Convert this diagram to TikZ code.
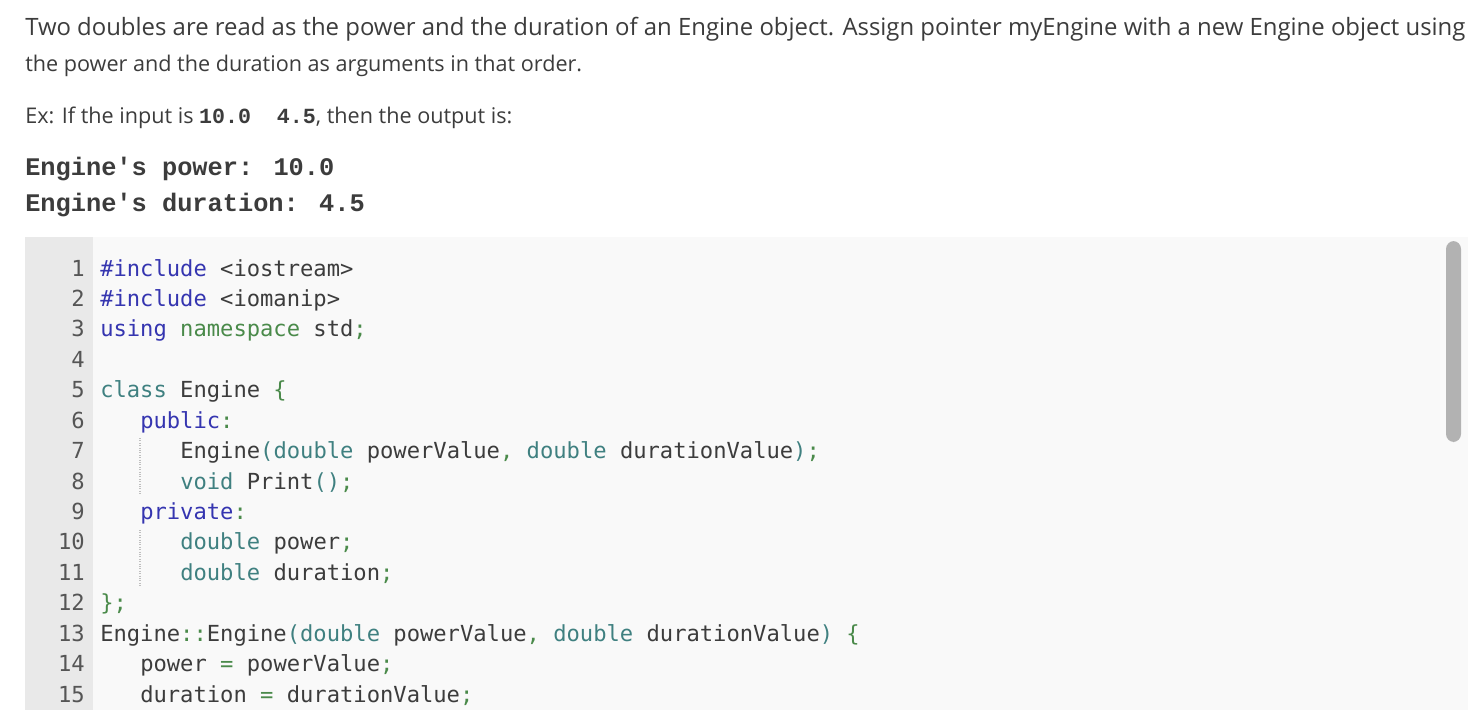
\documentclass[tikz,border=0pt]{standalone}
\usepackage{fontspec}
\setmainfont{Open Sans}
\newfontfamily\codefont{DejaVu Sans Mono}
\newfontfamily\outfont{Liberation Mono}
\definecolor{txt}{HTML}{3C3C3C}
\definecolor{kwb}{HTML}{3535B0}
\definecolor{kwg}{HTML}{4A8A4A}
\definecolor{kwt}{HTML}{3F8080}
\definecolor{lnum}{HTML}{555555}
\newcommand\kb[1]{\textcolor{kwb}{#1}}
\newcommand\kg[1]{\textcolor{kwg}{#1}}
\newcommand\kt[1]{\textcolor{kwt}{#1}}
\tikzset{
  para/.style={anchor=base west,inner sep=0,text=txt,font=\fontsize{16.2pt}{20pt}\selectfont},
  outl/.style={anchor=base west,inner sep=0,text=txt,font=\outfont\bfseries\fontsize{19pt}{22pt}\selectfont},
  codel/.style={anchor=base west,inner sep=0,text=txt,font=\codefont\fontsize{16.6pt}{20pt}\selectfont},
  lnl/.style={anchor=base east,inner sep=0,text=lnum,font=\codefont\fontsize{16.6pt}{20pt}\selectfont},
  guide/.style={gray!50,densely dotted,line width=0.8pt}
}
\begin{document}
\begin{tikzpicture}[x=0.75pt,y=-0.75pt]
\useasboundingbox (0,0) rectangle (1476,710);
\fill[white] (0,0) rectangle (1476,710);
\node[para] (p1) at (25,36) {\resizebox{1440\dimexpr0.75pt\relax}{!}{Two doubles are read as the power and the duration of an Engine object. Assign pointer myEngine with a new Engine object using}};
\node[para] (p2) at (25,71) {the power and the duration as arguments in that order.};
\node[para] (p3) at (25,123) {Ex: If the input is {\outfont\bfseries 10.0\ \ 4.5}, then the output is:};
\node[outl] (o1) at (25,175) {Engine's power: 10.0};
\node[outl] (o2) at (25,211) {Engine's duration: 4.5};
% code panel
\fill[gray!5] (25,237) rectangle (1468,710);
\fill[gray!17] (25,237) rectangle (93,710);
\fill[gray!60,rounded corners=6pt] (1446,241) rectangle (1461,442);
\foreach \i in {1,...,15}{
  \node[lnl] (n\i) at (85,{276+(\i-1)*30.43}) {\i};
}
\def\yy#1{{276+(#1-1)*30.43}}
\node[codel] (c1) at (100,\yy1) {\kb{\#include} <iostream>};
\node[codel] (c2) at (100,\yy2) {\kb{\#include} <iomanip>};
\node[codel] (c3) at (100,\yy3) {\kb{using} \kg{namespace} std\kg{;}};
\node[codel] (c5) at (100,\yy5) {\kt{class} Engine \kg{\{}};
\node[codel] (c6) at (140,\yy6) {\kb{public}\kg{:}};
\node[codel] (c7) at (180,\yy7) {Engine\kt{(}\kt{double} powerValue\kg{,} \kt{double} durationValue\kt{)}\kg{;}};
\node[codel] (c8) at (180,\yy8) {\kt{void} Print\kt{()}\kg{;}};
\node[codel] (c9) at (140,\yy9) {\kb{private}\kg{:}};
\node[codel] (c10) at (180,\yy{10}) {\kt{double} power\kg{;}};
\node[codel] (c11) at (180,\yy{11}) {\kt{double} duration\kg{;}};
\node[codel] (c12) at (100,\yy{12}) {\kg{\};}};
\node[codel] (c13) at (100,\yy{13}) {Engine\kg{::}Engine\kt{(}\kt{double} powerValue\kg{,} \kt{double} durationValue\kt{)} \kg{\{}};
\node[codel] (c14) at (140,\yy{14}) {power \kg{=} powerValue\kg{;}};
\node[codel] (c15) at (140,\yy{15}) {duration \kg{=} durationValue\kg{;}};
\draw[guide] (140,438) -- (140,495);
\draw[guide] (140,530) -- (140,586);
\end{tikzpicture}
\end{document}
